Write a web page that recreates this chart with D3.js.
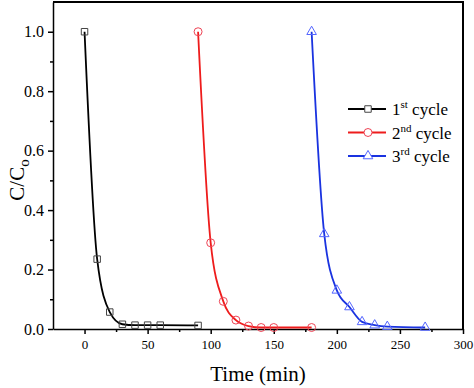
<!DOCTYPE html>
<html>
<head>
<meta charset="utf-8">
<script src="https://cdn.jsdelivr.net/npm/d3@7"></script>
<style>
	body { margin:0; background:#fff; }
	svg { display:block; }
	svg text { font-family:"Liberation Serif", serif; }
	.axis path, .axis line { stroke:#000; stroke-width:1.5; }
	.axis text { fill:#000; font-family:"Liberation Serif", serif; }
</style>
</head>
<body>
<div id="chart"></div>
<script>
// data
var time1 = [0, 10, 20, 30, 40, 50, 60, 90];
var cycle1 = [1.0, 0.235, 0.057, 0.016, 0.013, 0.013, 0.013, 0.012];
var time2 = [90, 100, 110, 120, 130, 140, 150, 180];
var cycle2 = [1.0, 0.29, 0.093, 0.03, 0.01, 0.005, 0.005, 0.005];
var time3 = [180, 190, 200, 210, 220, 230, 240, 270];
var cycle3 = [1.0, 0.32, 0.13, 0.074, 0.024, 0.013, 0.008, 0.005];
var xTicks = [0, 50, 100, 150, 200, 250, 300];
var yTicks = [0.0, 0.2, 0.4, 0.6, 0.8, 1.0];
var seriesNames = ["1", "2", "3"];
var seriesSup = ["st", "nd", "rd"];

var width = 474, height = 388;
var margins = {top:2, right:11, bottom:59, left:53};
var chartW = width - margins.left - margins.right;
var chartH = height - margins.top - margins.bottom;

var svg = d3.select("#chart").append("svg")
	.attr("width", width)
	.attr("height", height);
var g = svg.append("g")
	.attr("transform", "translate(" + margins.left + "," + margins.top + ")");

var x = d3.scaleLinear().domain([-25, 300]).range([0, chartW]);
var y = d3.scaleLinear().domain([0, 1.1]).range([chartH, 0]);

// frame (top and right)
g.append("path")
	.attr("d", "M0,0H" + chartW + "V" + chartH)
	.attr("fill", "none")
	.attr("stroke", "#000")
	.attr("stroke-width", 2);

// minor ticks
g.append("g").attr("class", "axis")
	.attr("transform", "translate(0," + chartH + ")")
	.call(d3.axisBottom(x).tickValues([25, 75, 125, 175, 225, 275]).tickSize(3).tickFormat(""))
	.select(".domain").remove();
g.append("g").attr("class", "axis")
	.call(d3.axisLeft(y).tickValues([0.1, 0.3, 0.5, 0.7, 0.9]).tickSize(3).tickFormat(""))
	.select(".domain").remove();

// main axes
var xAxis = g.append("g").attr("class", "axis")
	.attr("transform", "translate(0," + chartH + ")")
	.call(d3.axisBottom(x).tickValues(xTicks).tickSize(5).tickSizeOuter(0).tickPadding(6));
xAxis.attr("font-family", null);
xAxis.selectAll("text").style("font-size", "13px");

var yAxis = g.append("g").attr("class", "axis")
	.call(d3.axisLeft(y).tickValues(yTicks).tickSize(5).tickSizeOuter(0).tickPadding(4).tickFormat(d3.format(".1f")));
yAxis.attr("font-family", null);
yAxis.selectAll("text").style("font-size", "16px");

// axis titles
svg.append("text")
	.attr("x", 258)
	.attr("y", 381)
	.attr("text-anchor", "middle")
	.attr("font-size", "21px")
	.text("Time (min)");

var yTitle = svg.append("text")
	.attr("transform", "translate(24,180) rotate(-90)")
	.attr("text-anchor", "middle")
	.attr("font-size", "21px");
yTitle.append("tspan").text("C/C");
yTitle.append("tspan").attr("font-size", "15px").attr("dy", 5).text("o");

// series
var series = [
	{ t:time1, v:cycle1, line:"#000000", mark:"#444444", shape:d3.symbolSquare, size:42 },
	{ t:time2, v:cycle2, line:"#ee1c1c", mark:"#ee4455", shape:d3.symbolCircle, size:50 },
	{ t:time3, v:cycle3, line:"#1a33e0", mark:"#5566ff", shape:d3.symbolTriangle, size:40 }
];

var line = d3.line()
	.x(function(d){ return x(d[0]); })
	.y(function(d){ return y(d[1]); })
	.curve(d3.curveMonotoneX);

series.forEach(function(s){
	var pts = s.t.map(function(t, i){ return [t, s.v[i]]; });
	g.append("path")
		.attr("d", line(pts))
		.attr("fill", "none")
		.attr("stroke", s.line)
		.attr("stroke-width", 1.8);
	g.selectAll(null)
		.data(pts)
		.enter()
		.append("path")
		.attr("d", d3.symbol().type(s.shape).size(s.size))
		.attr("transform", function(d){ return "translate(" + x(d[0]) + "," + y(d[1]) + ")"; })
		.attr("fill", "none")
		.attr("stroke", s.mark)
		.attr("stroke-width", 1);
});

// legend
var legend = svg.append("g").attr("transform", "translate(348,109)");
series.forEach(function(s, i){
	var row = legend.append("g").attr("transform", "translate(0," + (i * 23.5) + ")");
	row.append("line")
		.attr("x1", 0).attr("x2", 38)
		.attr("stroke", s.line)
		.attr("stroke-width", 1.8);
	row.append("path")
		.attr("d", d3.symbol().type(s.shape).size(s.size))
		.attr("transform", "translate(20,0)")
		.attr("fill", "#fff")
		.attr("stroke", s.mark)
		.attr("stroke-width", 1);
	var label = row.append("text")
		.attr("x", 44)
		.attr("y", 6)
		.attr("font-size", "17px");
	label.append("tspan").text(seriesNames[i]);
	label.append("tspan").attr("font-size", "11px").attr("dy", -7).text(seriesSup[i]);
	label.append("tspan").attr("dy", 7).text(" cycle");
});
</script>
</body>
</html>
